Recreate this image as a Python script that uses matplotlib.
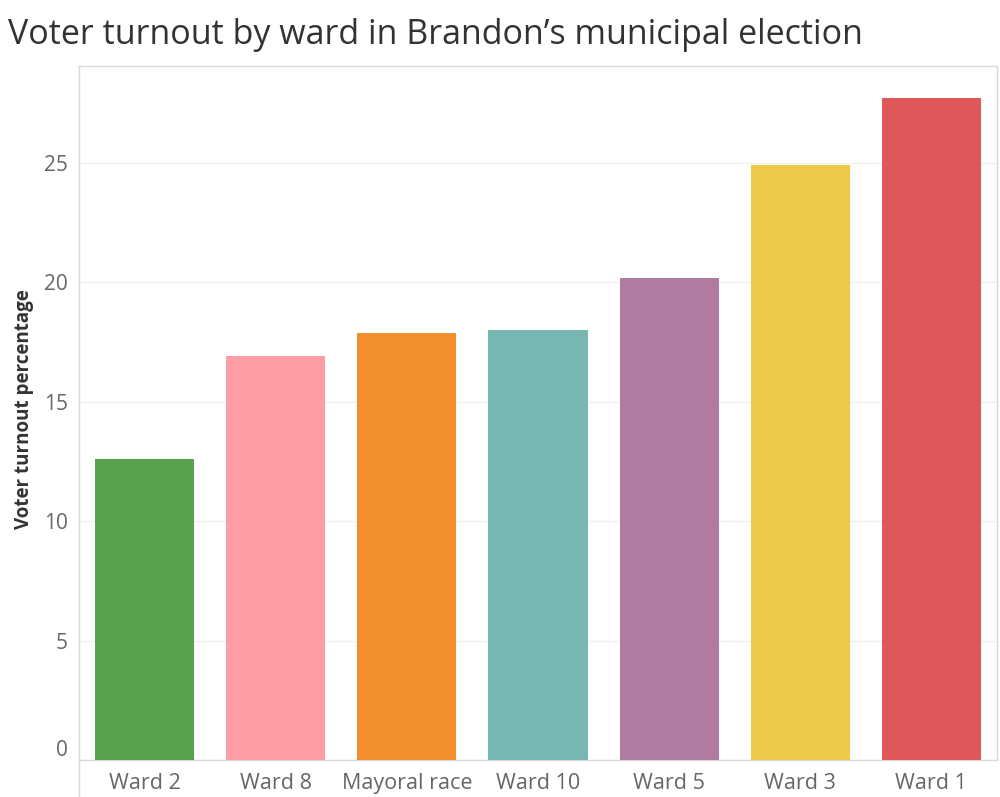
import matplotlib
matplotlib.use("Agg")
import matplotlib.pyplot as plt
import matplotlib.transforms as mtransforms

plt.rcParams['font.family'] = ['Open Sans', 'DejaVu Sans']

# data
wards = ["Ward 2", "Ward 8", "Mayoral race", "Ward 10", "Ward 5", "Ward 3", "Ward 1"]
turnout = [12.6, 16.9, 17.9, 18.0, 20.2, 24.9, 27.7]
colors = ["#59A14F", "#FF9DA7", "#F28E2B", "#76B7B2", "#B07AA1", "#EDC948", "#E15759"]
yticks = [0, 5, 10, 15, 20, 25]

fig = plt.figure(figsize=(10, 7.97), dpi=100)
ax = fig.add_axes([0.079, 0.0464, 0.918, 0.8708])

x = range(len(wards))
ax.bar(x, turnout, width=0.755, color=colors, zorder=3)

ax.set_xlim(-0.5, len(wards) - 0.5)
ax.set_ylim(0, 29.06)
ax.set_yticks(yticks)
ax.set_xticks(list(x))
ax.set_xticklabels(wards)

ax.yaxis.grid(True, color="#f0f0f0", linewidth=1, zorder=0)
ax.tick_params(axis='y', length=0, pad=8, labelsize=15, labelcolor="#666666")
ax.tick_params(axis='x', length=0, pad=9, labelsize=15.5, labelcolor="#666666")

for s in ["top", "right", "left", "bottom"]:
    ax.spines[s].set_color("#d9d9d9")
    ax.spines[s].set_linewidth(1)

# Tableau nudges the bottom tick label up
lbl0 = ax.get_yticklabels()[0]
lbl0.set_transform(lbl0.get_transform() + mtransforms.ScaledTranslation(0, 12 / 100, fig.dpi_scale_trans))

# left border continues down past the x header
ax.plot([0, 0], [0, -0.054], transform=ax.transAxes, color="#d9d9d9", linewidth=1, clip_on=False)

ax.set_ylabel("Voter turnout percentage", fontsize=13.5, fontweight="bold", color="#333333")
ax.yaxis.set_label_coords(-0.049, 0.505)

fig.text(0.008, 0.945, "Voter turnout by ward in Brandon\u2019s municipal election",
         fontsize=24.5, color="#333333", ha="left", va="baseline")

fig.savefig("out.png", dpi=100)
